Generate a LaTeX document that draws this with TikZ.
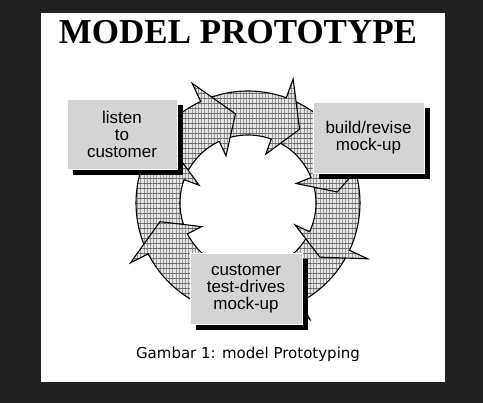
\documentclass[tikz,border=0pt]{standalone}
\usepackage{fontspec}
\setmainfont{Liberation Serif}
\newfontfamily\arialf{Liberation Sans}
\newfontfamily\dejaf{DejaVu Sans}
\usetikzlibrary{patterns.meta,shadows}
\definecolor{bgdark}{RGB}{33,33,33}
\definecolor{boxgray}{RGB}{212,212,212}
\newcommand{\ringarrow}[4][52]{%
  \draw[ringstyle] (#2:112) arc[start angle=#2, end angle=#3, radius=112]
    -- (#3:132) -- (#4:90) -- (#3:#1) -- (#3:68)
    arc[start angle=#3, end angle=#2, radius=68] -- cycle;}
\begin{document}
\begin{tikzpicture}[x=1pt,y=1pt,
  ringstyle/.style={draw=black, line width=1.1pt, line join=miter,
    preaction={fill=black!10},
    preaction={pattern={Lines[angle=90,distance=3.2pt,line width=0.7pt]}, pattern color=black!40},
    pattern={Lines[angle=0,distance=5pt,line width=0.55pt]}, pattern color=black!58},
  stepbox/.style={fill=boxgray, draw=white, line width=0.4pt, inner sep=0pt,
    minimum width=110pt, minimum height=70pt, align=center,
    font=\arialf\fontsize{17}{17}\selectfont,
    drop shadow={shadow xshift=6pt, shadow yshift=-6pt, fill=black, opacity=1}},
  ]
\useasboundingbox (0,0) rectangle (483,403);
\fill[bgdark] (0,0) rectangle (483,403);
\fill[white] (41,21) rectangle (445,390);
\node[anchor=base, inner sep=0pt, font=\fontsize{35}{40}\selectfont\bfseries] (title) at (238,359.7) {MODEL PROTOTYPE};
\begin{scope}[shift={(248,200)}]
  \ringarrow[62]{-64}{-110}{-124}
  \ringarrow[62]{-27}{-62}{-76}
  \ringarrow{20}{-25}{-37}
  \ringarrow{68}{22}{7}
  \ringarrow{113}{70}{55}
  \ringarrow{158}{115}{98}
  \ringarrow{205}{160}{145}
  \ringarrow{248}{207}{192}
\end{scope}
\node[stepbox] (listen) at (122,269) {listen\\to\\customer};
\node[stepbox, minimum width=111pt, minimum height=71pt] (build) at (368.5,265.5) {build/revise\\mock-up};
\node[stepbox, minimum width=112pt, minimum height=71pt] (test) at (246,114.5) {customer\\test-drives\\mock-up};
\node[anchor=base, inner sep=0pt, font=\dejaf\fontsize{15}{18}\selectfont] (caption) at (248,44) {Gambar 1: model Prototyping};
\end{tikzpicture}
\end{document}
